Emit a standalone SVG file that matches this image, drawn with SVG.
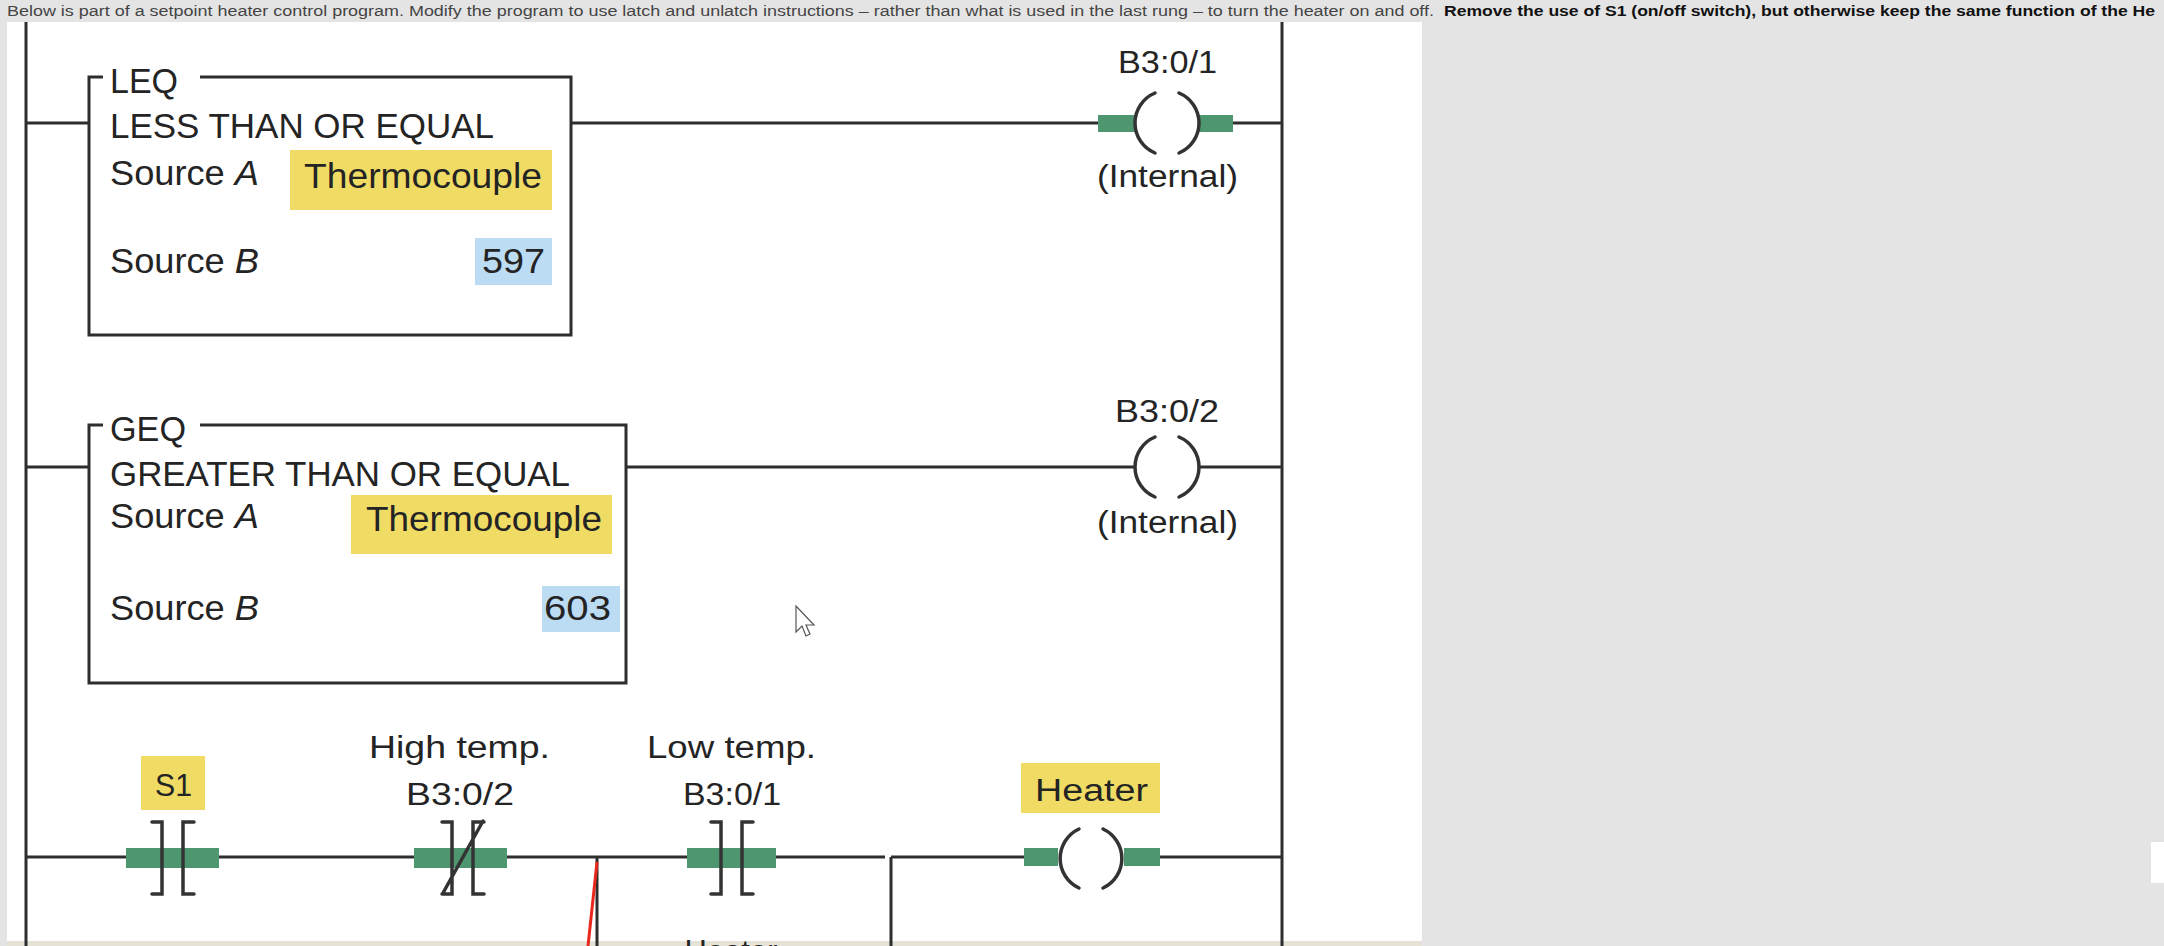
<svg xmlns="http://www.w3.org/2000/svg" width="2164" height="946" viewBox="0 0 2164 946">
<style>
.t{font-family:"Liberation Sans",Arial,sans-serif;fill:#242424}
.box{font-size:35px}
.lbl{font-size:31px}
.w{stroke:#2e2e2e;stroke-width:3;fill:none}
.pad{fill:#4e9670}
.par{stroke:#333;stroke-width:3.5;fill:none;stroke-linecap:round}
.hy{fill:#f0dc64}
.hb{fill:#bcdcf4}
</style>
<rect width="2164" height="946" fill="#e4e4e4"/>
<rect x="7" y="22" width="1415" height="924" fill="#ffffff"/>
<rect x="7" y="941" width="1415" height="5" fill="#e6e2d6"/>
<rect x="2151" y="842" width="13" height="41" fill="#ffffff"/>
<text x="7" y="16" class="t" font-size="14" textLength="1427" lengthAdjust="spacingAndGlyphs" style="fill:#444">Below is part of a setpoint heater control program.  Modify the program to use latch and unlatch instructions – rather than what is used in the last rung – to turn the heater on and off.</text>
<text x="1444" y="16" class="t" font-size="14" font-weight="bold" textLength="711" lengthAdjust="spacingAndGlyphs" style="fill:#111">Remove the use of S1 (on/off switch), but otherwise keep the same function of the He</text>

<g id="connectors">
<line class="w" x1="26" y1="22" x2="26" y2="946"/>
<line class="w" x1="1282" y1="22" x2="1282" y2="946"/>
<line class="w" x1="26" y1="123" x2="89" y2="123"/>
<line class="w" x1="571" y1="123" x2="1098" y2="123"/>
<line class="w" x1="1233" y1="123" x2="1282" y2="123"/>
<line class="w" x1="26" y1="467" x2="89" y2="467"/>
<line class="w" x1="626" y1="467" x2="1135" y2="467"/>
<line class="w" x1="1199" y1="467" x2="1282" y2="467"/>
<line class="w" x1="26" y1="857" x2="126" y2="857"/>
<line class="w" x1="219" y1="857" x2="414" y2="857"/>
<line class="w" x1="507" y1="857" x2="687" y2="857"/>
<line class="w" x1="597" y1="857" x2="597" y2="946"/>
<line class="w" x1="776" y1="857" x2="885" y2="857"/>
<line class="w" x1="891" y1="857" x2="1024" y2="857"/>
<line class="w" x1="891" y1="857" x2="891" y2="946"/>
<line class="w" x1="1160" y1="857" x2="1282" y2="857"/>
<line x1="597" y1="862" x2="588" y2="946" stroke="#e8281c" stroke-width="3"/>
</g>

<g id="leq">
<path class="w" d="M103 77 H89 V335 H571 V77 H200"/>
<text class="t box" x="110" y="93" textLength="68" lengthAdjust="spacingAndGlyphs">LEQ</text>
<text class="t box" x="110" y="138" textLength="384" lengthAdjust="spacingAndGlyphs">LESS THAN OR EQUAL</text>
<text class="t box" x="110" y="185" textLength="149" lengthAdjust="spacingAndGlyphs">Source <tspan font-style="italic">A</tspan></text>
<rect class="hy" x="290" y="150" width="262" height="60"/>
<text class="t box" x="304" y="188" textLength="238" lengthAdjust="spacingAndGlyphs">Thermocouple</text>
<text class="t box" x="110" y="273" textLength="149" lengthAdjust="spacingAndGlyphs">Source <tspan font-style="italic">B</tspan></text>
<rect class="hb" x="475" y="238" width="77" height="47"/>
<text class="t box" x="482" y="273" textLength="63" lengthAdjust="spacingAndGlyphs">597</text>
</g>

<g id="geq">
<path class="w" d="M103 425 H89 V683 H626 V425 H200"/>
<text class="t box" x="110" y="441" textLength="76" lengthAdjust="spacingAndGlyphs">GEQ</text>
<text class="t box" x="110" y="486" textLength="460" lengthAdjust="spacingAndGlyphs">GREATER THAN OR EQUAL</text>
<text class="t box" x="110" y="528" textLength="149" lengthAdjust="spacingAndGlyphs">Source <tspan font-style="italic">A</tspan></text>
<rect class="hy" x="351" y="495" width="261" height="59"/>
<text class="t box" x="366" y="531" textLength="236" lengthAdjust="spacingAndGlyphs">Thermocouple</text>
<text class="t box" x="110" y="620" textLength="149" lengthAdjust="spacingAndGlyphs">Source <tspan font-style="italic">B</tspan></text>
<rect class="hb" x="542" y="586" width="78" height="46"/>
<text class="t box" x="544" y="620" textLength="67" lengthAdjust="spacingAndGlyphs">603</text>
</g>

<g id="coil-b3-0-1">
<rect class="pad" x="1098" y="115" width="37" height="17"/>
<rect class="pad" x="1199" y="115" width="34" height="17"/>
<path class="par" d="M1155 93 A32.5 32.5 0 0 0 1155 153 M1179 93 A32.5 32.5 0 0 1 1179 153"/>
<text class="t lbl" x="1118" y="73" textLength="99" lengthAdjust="spacingAndGlyphs">B3:0/1</text>
<text class="t lbl" x="1097" y="187" textLength="141" lengthAdjust="spacingAndGlyphs">(Internal)</text>
</g>

<g id="coil-b3-0-2">
<path class="par" d="M1155 437 A32.5 32.5 0 0 0 1155 497 M1179 437 A32.5 32.5 0 0 1 1179 497"/>
<text class="t lbl" x="1115" y="422" textLength="104" lengthAdjust="spacingAndGlyphs">B3:0/2</text>
<text class="t lbl" x="1097" y="533" textLength="141" lengthAdjust="spacingAndGlyphs">(Internal)</text>
</g>

<g id="s1">
<rect class="hy" x="141" y="756" width="64" height="54"/>
<text class="t lbl" x="155" y="796" font-size="34" textLength="37" lengthAdjust="spacingAndGlyphs">S1</text>
<rect class="pad" x="126" y="848" width="93" height="20"/>
<path class="par" d="M152 822 H162 V894 H152 M194 822 H183 V894 H194"/>
</g>

<g id="high-temp">
<text class="t lbl" x="369" y="758" textLength="181" lengthAdjust="spacingAndGlyphs">High temp.</text>
<text class="t lbl" x="406" y="805" textLength="108" lengthAdjust="spacingAndGlyphs">B3:0/2</text>
<rect class="pad" x="414" y="848" width="93" height="20"/>
<path class="par" d="M442 822 H452 V894 H442 M484 822 H473 V894 H484 M443 893 L483 821"/>
</g>

<g id="low-temp">
<text class="t lbl" x="647" y="758" textLength="169" lengthAdjust="spacingAndGlyphs">Low temp.</text>
<text class="t lbl" x="683" y="805" textLength="98" lengthAdjust="spacingAndGlyphs">B3:0/1</text>
<rect class="pad" x="687" y="848" width="89" height="20"/>
<path class="par" d="M711 822 H721 V894 H711 M753 822 H742 V894 H753"/>
<text class="t lbl" x="731" y="962" text-anchor="middle">Heater</text>
</g>

<g id="heater">
<rect class="hy" x="1021" y="763" width="139" height="50"/>
<text class="t lbl" x="1035" y="801" textLength="113" lengthAdjust="spacingAndGlyphs">Heater</text>
<rect class="pad" x="1024" y="848" width="34" height="18"/>
<rect class="pad" x="1124" y="848" width="36" height="18"/>
<path class="par" d="M1079 829 A32.5 32.5 0 0 0 1079 888 M1103 829 A32.5 32.5 0 0 1 1103 888"/>
</g>

<path d="M796 606 V632 L802 626 L806 636 L810 634 L806 625 L814 625 Z" fill="#fff" stroke="#555" stroke-width="1.2"/>
</svg>
